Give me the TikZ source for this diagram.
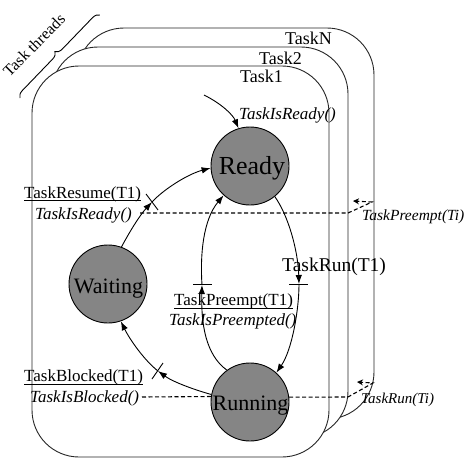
\documentclass[tikz,border=0pt]{standalone}
\usepackage{fontspec}
\setmainfont{Liberation Serif}
\usetikzlibrary{arrows.meta,decorations.pathreplacing}
\newcommand\myul[1]{\setbox0\hbox{#1}\rlap{\rule[-2.8pt]{\wd0}{0.8pt}}\box0}
\begin{document}
\begin{tikzpicture}[x=1pt,y=-1pt,
  frame/.style={draw=black!85,line width=0.9pt,fill=white,rounded corners=47pt},
  state/.style={circle,draw=black,line width=0.9pt,fill=black!48,minimum size=78pt,inner sep=0pt},
  arr/.style={line width=0.9pt,-{Latex[length=9pt,width=6.5pt]}},
  tickmark/.style={line width=0.9pt},
  dsh/.style={line width=1.1pt,dash pattern=on 4pt off 2.5pt},
  dsharr/.style={dsh,-{Stealth[length=6pt,width=6pt]}},
  lbl/.style={anchor=base west,inner sep=0pt,font=\fontsize{17}{20}\selectfont},
  ilbl/.style={anchor=base west,inner sep=0pt,font=\fontsize{17}{20}\selectfont\itshape},
  tlbl/.style={anchor=base west,inner sep=0pt,font=\fontsize{18}{21}\selectfont},
  stxt/.style={anchor=base,inner sep=0pt},
]
\useasboundingbox (0,0) rectangle (474,463);
% task frames
\draw[frame] (77,28) rectangle (374,419);
\draw[frame] (51,47) rectangle (348,438);
\draw[frame] (32,66) rectangle (329,457);
\node[tlbl] (lN) at (285,44.3) {TaskN};
\node[tlbl] (l2) at (259,64) {Task2};
\node[tlbl] (l1) at (240,82.5) {Task1};
% brace
\draw[decorate,decoration={brace,amplitude=7pt},line width=0.9pt] (20,98) -- (100,15);
\node[rotate=45,inner sep=0pt,font=\fontsize{16}{19}\selectfont] (tt) at (34,45) {Task threads};
% states
\node[state] (R) at (250,166) {};
\node[state] (W) at (108,284) {};
\node[state] (Run) at (250,402) {};
\node[stxt,font=\fontsize{26}{30}\selectfont] (Rt) at (252,174) {Ready};
\node[stxt,font=\fontsize{22}{26}\selectfont] (Wt) at (108.5,293) {Waiting};
\node[stxt,font=\fontsize{22}{26}\selectfont] (Runt) at (250.5,410) {Running};
% coordinates
\coordinate (in) at (204,95);
\coordinate (tR) at (152,202);
\coordinate (tRun) at (299,284);
\coordinate (tPre) at (202,285);
\coordinate (tB) at (158,371);
% transitions
\draw[arr] (in) .. controls (222,104) and (233,115) .. (R.107.5);
\draw[arr] (W.70.6) .. controls (130,231) and (140,215) .. (tR);
\draw[arr] (tR) .. controls (164,189) and (188,174) .. (R.183);
\draw[arr] (R.309) .. controls (288,215) and (298,250) .. (tRun);
\draw[arr] (tRun) .. controls (299,310) and (292,350) .. (Run.48);
\draw[arr] (Run.126.6) .. controls (206,355) and (201,325) .. (tPre);
\draw[arr] (tPre) .. controls (200,255) and (203,220) .. (R.228);
\draw[arr] (Run.169) .. controls (195,390) and (173,382) .. (tB);
\draw[arr] (tB) .. controls (145,361) and (130,340) .. (W.289.4);
% ticks
\draw[tickmark] ([shift={(-6,-8)}]tR) -- ([shift={(6,8)}]tR);
\draw[tickmark] ([shift={(-10,0)}]tRun) -- ([shift={(9,0)}]tRun);
\draw[tickmark] ([shift={(-9,-1)}]tPre) -- ([shift={(10,-1)}]tPre);
\draw[tickmark] ([shift={(-6,8)}]tB) -- ([shift={(5,-8)}]tB);
% labels
\node[ilbl] (lIR1) at (239,119) {TaskIsReady()};
\node[lbl] (lRes) at (24,198) {\myul{TaskResume(T1)}};
\node[ilbl] (lIR2) at (35,219) {TaskIsReady()};
\node[anchor=base west,inner sep=0pt,font=\fontsize{15.5}{18}\selectfont\itshape] (lPTi) at (362,220) {TaskPreempt(Ti)};
\node[anchor=base west,inner sep=0pt,font=\fontsize{19.5}{22}\selectfont] (lRun) at (282,271) {TaskRun(T1)};
\node[lbl] (lPre) at (174,305.7) {\myul{TaskPreempt(T1)}};
\node[ilbl] (lIP) at (169,325.7) {TaskIsPreempted()};
\node[lbl] (lBl) at (24,381.7) {\myul{TaskBlocked(T1)}};
\node[ilbl] (lIB) at (30,402.7) {TaskIsBlocked()};
\node[anchor=base west,inner sep=0pt,font=\fontsize{15}{18}\selectfont\itshape] (lRTi) at (361,403) {TaskRun(Ti)};
% dashed notifications
\coordinate (d1a) at (140,213);
\draw[dsharr] (d1a) -- (348,213) -- (372,202) -- (353,201);
\coordinate (d2a) at (142,397);
\draw[dsh] (d2a) -- (Run.172.6);
\draw[dsharr] (Run.7.4) -- (348,397) -- (373,383) -- (357,382);
\end{tikzpicture}
\end{document}
